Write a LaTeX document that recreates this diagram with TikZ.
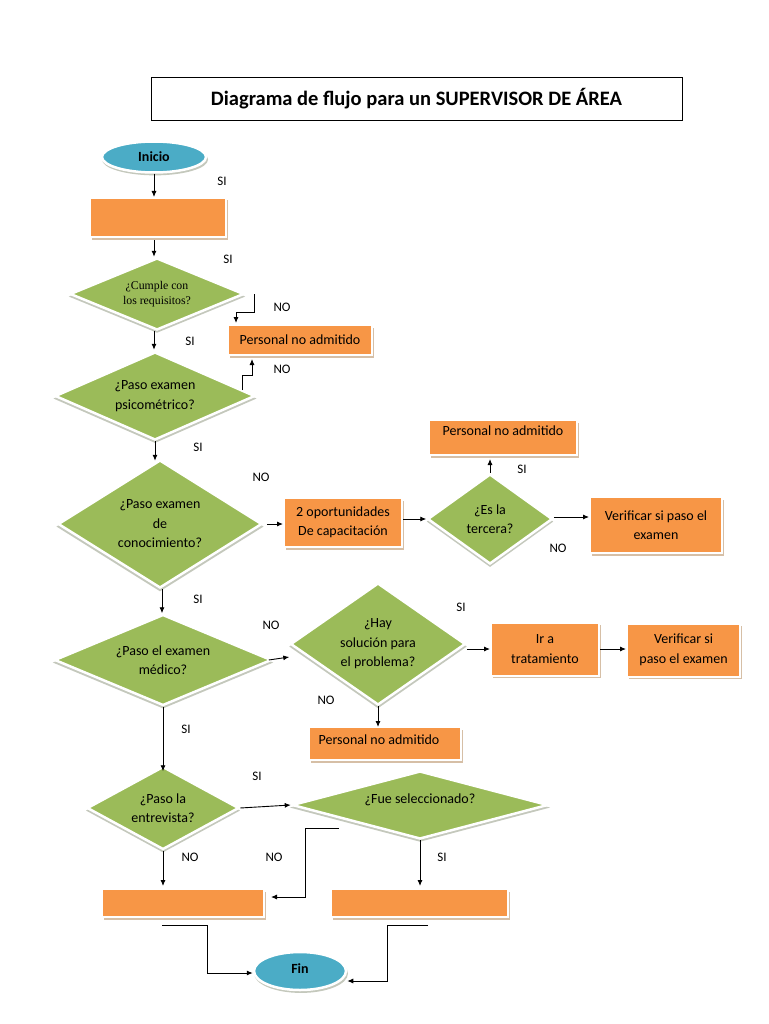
\documentclass[tikz,border=0pt]{standalone}
\usepackage{fontspec}
\setmainfont{Carlito}
\newfontfamily\timesf{Liberation Serif}
\usetikzlibrary{shapes.geometric,shadows,arrows.meta}
\definecolor{ofill}{HTML}{F79646}
\definecolor{gfill}{HTML}{9BBB59}
\definecolor{bfill}{HTML}{4BACC6}
\definecolor{oshadow}{HTML}{D6BFA6}
\definecolor{gshadow}{HTML}{C4C8BC}
\tikzset{
  basefont/.style={font=\fontsize{14}{19.5}\selectfont},
  obox/.style={rectangle, fill=ofill, draw=white, line width=2pt, inner sep=3pt, basefont, align=center,
    drop shadow={shadow xshift=1.5pt, shadow yshift=-2.5pt, fill=oshadow, opacity=1}},
  gdia/.style={diamond, fill=gfill, draw=white, line width=2.5pt, inner sep=0pt, basefont, align=center,
    drop shadow={shadow xshift=0pt, shadow yshift=-2.5pt, shadow scale=1.02, fill=gshadow, opacity=1}},
  term/.style={ellipse, fill=bfill, draw=white, line width=2.5pt, inner sep=0pt,
    font=\fontsize{14}{16}\selectfont\bfseries,
    drop shadow={shadow xshift=1pt, shadow yshift=-2.5pt, shadow scale=1.02, fill=gshadow, opacity=1}},
  lbl/.style={inner sep=0pt, font=\fontsize{13}{15}\selectfont},
  arr/.style={draw=black, line width=0.9pt, -{Latex[length=6pt,width=5pt]}}
}
\begin{document}
\begin{tikzpicture}[x=1pt,y=-1pt]
\useasboundingbox (0,0) rectangle (768,1024);
\fill[white] (0,0) rectangle (768,1024);

% title
\node[draw=black, line width=0.6pt, minimum width=531pt, minimum height=43pt, inner sep=0pt,
  font=\fontsize{20.5}{22}\selectfont\bfseries] (title) at (416.5,98.5) {Diagrama de flujo para un SUPERVISOR DE ÁREA};

% terminals
\node[term, minimum width=104pt, minimum height=31pt] (ini) at (154,157) {Inicio};
\node[term, minimum width=92pt, minimum height=38pt, text height=12pt, text depth=8pt] (fin) at (300,971) {Fin};

% boxes
\node[obox, minimum width=136pt, minimum height=39pt] (r1) at (158,217.5) {};
\node[obox, minimum width=144pt, minimum height=30pt] (p1) at (300,340) {Personal no admitido};
\node[obox, minimum width=118pt, minimum height=49pt] (op) at (343,522.5) {2 oportunidades\\De capacitación};
\node[obox, minimum width=148pt, minimum height=35pt, text height=12pt, text depth=17pt] (p2) at (503,437.5) {Personal no admitido};
\node[obox, minimum width=132pt, minimum height=56pt] (v1) at (656,525) {Verificar si paso el\\examen};
\node[obox, minimum width=108pt, minimum height=53pt] (it) at (545,649) {Ir a\\tratamiento};
\node[obox, minimum width=113pt, minimum height=53pt] (v2) at (683.5,650) {Verificar si\\paso el examen};
\node[obox, minimum width=152pt, minimum height=33pt, text height=14pt, text depth=13pt] (p3) at (385,743.5) {Personal no admitido\hspace{12pt}};
\node[obox, minimum width=162pt, minimum height=28pt] (b1) at (183,903) {};
\node[obox, minimum width=177pt, minimum height=28pt] (b2) at (419.5,903) {};

% diamonds
\node[gdia, minimum width=174pt, minimum height=72pt, aspect=2.4, font=\timesf\fontsize{11.8}{15}\selectfont] (d1) at (157,294) {¿Cumple con\\los requisitos?};
\node[gdia, minimum width=200pt, minimum height=88pt, aspect=2.3] (d2) at (155,396) {¿Paso examen\\psicométrico?};
\node[gdia, minimum width=204pt, minimum height=128pt, aspect=1.6] (d3) at (160,524) {¿Paso examen\\de\\conocimiento?};
\node[gdia, minimum width=125pt, minimum height=90pt, aspect=1.4] (d4) at (490,519) {¿Es la\\tercera?};
\node[gdia, minimum width=217pt, minimum height=91pt, aspect=2.4] (d5) at (163,660) {¿Paso el examen\\médico?};
\node[gdia, minimum width=175pt, minimum height=122pt, aspect=1.45] (d6) at (378,644) {¿Hay\\solución para\\el problema?};
\node[gdia, minimum width=152pt, minimum height=83pt, aspect=1.85] (d7) at (163,808) {¿Paso la\\entrevista?};
\node[gdia, minimum width=256pt, minimum height=68pt, aspect=3.8, text height=6pt, text depth=10pt] (d8) at (420,805) {¿Fue seleccionado?};

% connectors
\draw[arr] (ini.south) -- (ini.south |- r1.north);
\draw[arr] ([yshift=-2pt]r1.south -| ini.south) -- (ini.south |- d1.north);
\coordinate (n1a) at (254,294);
\draw[arr] (n1a) -- ++(0,18) -| ([xshift=9pt,yshift=1pt]p1.north west);
\draw[arr] (d1.south -| ini.south) -- ([yshift=1pt]d2.north -| ini.south);
\coordinate (n2a) at (242,390);
\draw[arr] (n2a) -- ++(0,-15) -| ([xshift=25pt,yshift=-3pt]p1.south west);
\draw[arr] (d2.south) -- ([yshift=-2pt]d2.south |- d3.north);
\draw[arr] ([xshift=4pt]d3.east) -- (op.west |- d3.east);
\draw[arr] (op.east |- d4.west) -- (d4.west);
\draw[arr] (d4.north) -- ([yshift=-3pt]d4.north |- p2.south);
\draw[arr] ([yshift=2pt]d4.east) -- (v1.west |- 0,517);
\draw[arr] ([xshift=2pt]d3.south) -- ([xshift=2pt]d3.south |- d5.north);
\draw[arr] ([xshift=-4pt]d5.east) -- ([yshift=-13pt]d6.west);
\draw[arr] (d6.east |- it.west) -- (it.west);
\draw[arr] (it.east) -- (v2.west |- it.east);
\draw[arr] (d6.south) -- ([yshift=-1pt]d6.south |- p3.north);
\draw[arr] (d5.south) -- ([yshift=-6pt]d5.south |- d7.north);
\draw[arr] (d7.east) -- (d8.west);
\coordinate (n8a) at (339,828);
\draw[arr] (n8a) -- ++(-34,0) |- ([xshift=6pt,yshift=6pt]b1.east);
\draw[arr] (d7.south) -- ([yshift=2pt]d7.south |- b1.north);
\draw[arr] (d8.south) -- ([yshift=2pt]d8.south |- b2.north);
\coordinate (f1) at (162,925);
\draw[arr] (f1) -- ++(45,0) |- ([yshift=-2pt]fin.west);
\coordinate (f2) at (428,925);
\draw[arr] (f2) -- ++(-41,0) |- ([yshift=-10pt]fin.east);

% labels
\node[lbl] (s1) at (222,181) {SI};
\node[lbl] (s2) at (228,259) {SI};
\node[lbl] (s3) at (190,341) {SI};
\node[lbl] (s4) at (198,447) {SI};
\node[lbl] (s5) at (198,599) {SI};
\node[lbl] (s6) at (186,729) {SI};
\node[lbl] (s7) at (257,776) {SI};
\node[lbl] (s8) at (442,857) {SI};
\node[lbl] (s9) at (461,607) {SI};
\node[lbl] (s10) at (522,469) {SI};
\node[lbl] (no1) at (282,307) {NO};
\node[lbl] (no2) at (282,369) {NO};
\node[lbl] (no3) at (261,477) {NO};
\node[lbl] (no4) at (558,548) {NO};
\node[lbl] (no5) at (271,625) {NO};
\node[lbl] (no6) at (326,700) {NO};
\node[lbl] (no7) at (190,857) {NO};
\node[lbl] (no8) at (274,857) {NO};
\end{tikzpicture}
\end{document}
